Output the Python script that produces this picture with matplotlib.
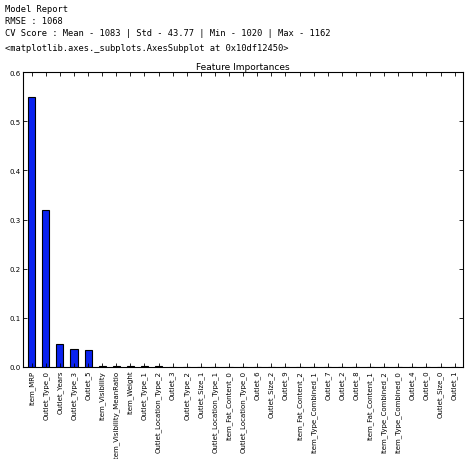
import numpy as np
import matplotlib.pyplot as plt

# feature importances
features = ['Item_MRP', 'Outlet_Type_0', 'Outlet_Years', 'Outlet_Type_3', 'Outlet_5',
            'Item_Visibility', 'Item_Visibility_MeanRatio', 'Item_Weight', 'Outlet_Type_1',
            'Outlet_Location_Type_2', 'Outlet_3', 'Outlet_Type_2', 'Outlet_Size_1',
            'Outlet_Location_Type_1', 'Item_Fat_Content_0', 'Outlet_Location_Type_0',
            'Outlet_6', 'Outlet_Size_2', 'Outlet_9', 'Item_Fat_Content_2',
            'Item_Type_Combined_1', 'Outlet_7', 'Outlet_2', 'Outlet_8',
            'Item_Fat_Content_1', 'Item_Type_Combined_2', 'Item_Type_Combined_0',
            'Outlet_4', 'Outlet_0', 'Outlet_Size_0', 'Outlet_1']
importances = [0.550, 0.320, 0.047, 0.037, 0.035,
               0.002, 0.002, 0.002, 0.002, 0.002, 0.0006, 0.0005, 0.0004,
               0.0003, 0.0002, 0.0002, 0.0001, 0.0001, 0.0001, 0.0001,
               0.0001, 0.0001, 0.0001, 0.0001, 0.0001, 0.0001, 0.0001,
               0.0001, 0.0001, 0.0001, 0.0001]

report = ['Model Report',
          'RMSE : 1068',
          'CV Score : Mean - 1083 | Std - 43.77 | Min - 1020 | Max - 1162']
repr_line = '<matplotlib.axes._subplots.AxesSubplot at 0x10df12450>'

fig = plt.figure(figsize=(4.74, 4.6), dpi=100)
for i, line in enumerate(report):
    fig.text(0.01, 0.99 - i * 0.026, line, family='DejaVu Sans Mono', fontsize=6.3, va='top')
fig.text(0.01, 0.905, repr_line, family='DejaVu Sans Mono', fontsize=6.3, va='top')

ax = fig.add_axes([0.049, 0.2, 0.928, 0.641])
x = np.arange(len(features))
ax.bar(x, importances, width=0.5, color='#0a22f0', edgecolor='black', linewidth=0.8)
ax.set_xlim(-0.6, len(features) - 0.4)
ax.set_ylim(0, 0.6)
ax.set_xticks(x)
ax.set_xticklabels(features, rotation=90, fontsize=5)
ax.set_yticks(np.arange(0, 0.61, 0.1))
ax.set_yticklabels(['0.0', '0.1', '0.2', '0.3', '0.4', '0.5', '0.6'], fontsize=5)
ax.tick_params(direction='in', top=True, right=True, length=3, width=0.6, pad=2)
ax.set_title('Feature Importances', fontsize=6.5, pad=2)
for s in ax.spines.values():
    s.set_linewidth(0.8)

fig.savefig('out.png', dpi=100)
